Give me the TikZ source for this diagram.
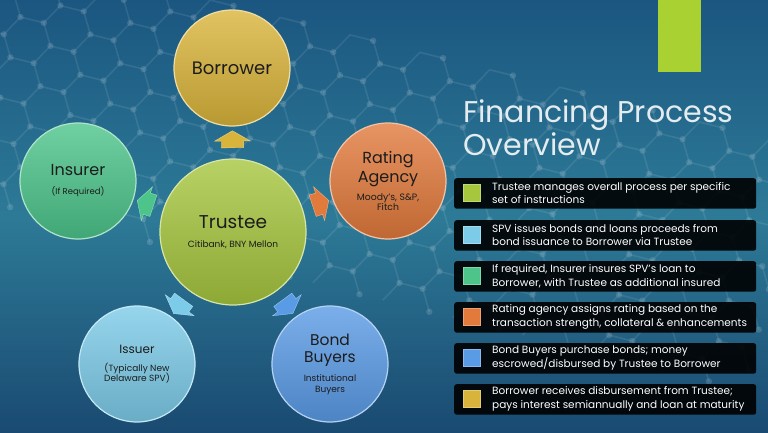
\documentclass[tikz,border=0pt]{standalone}
\usepackage{fontspec}
\setmainfont{Poppins}
\usetikzlibrary{shapes.arrows,positioning}

\definecolor{bgtop}{HTML}{1B5680}
\definecolor{bgmid}{HTML}{2D7A97}
\definecolor{bgbot}{HTML}{1A4A71}
\definecolor{inkdark}{HTML}{1C1C1C}
\definecolor{titlegray}{HTML}{E4ECF0}
\definecolor{limebar}{HTML}{A9D132}
\definecolor{borrowerc}{HTML}{D9B43A}
\definecolor{insurerc}{HTML}{4CC48A}
\definecolor{trusteec}{HTML}{A6C63E}
\definecolor{ratingc}{HTML}{E27A3C}
\definecolor{issuerc}{HTML}{7CCBE8}
\definecolor{bondc}{HTML}{5A9BE6}

\begin{document}
\begin{tikzpicture}
	[
		x=1pt, y=-1pt,
		party/.style={circle, inner sep=0pt, minimum size=116pt, align=center,
			text=inkdark, draw=white!55!#1, line width=1.2pt,
			top color=#1!80!white, bottom color=#1!85!black},
		pointer/.style={single arrow, sloped, allow upside down, inner xsep=0pt, inner ysep=11pt,
			minimum height=17pt, single arrow head extend=6.5pt,
			single arrow tip angle=120, fill=#1, draw=white!40!#1, line width=0.4pt},
		stepbox/.style={fill=black, fill opacity=0.9, rounded corners=2.5pt,
			minimum width=302pt, minimum height=30.5pt, anchor=north west, inner sep=0pt},
		bullet/.style={minimum size=17pt, inner sep=0pt, fill=#1, draw=white!30!#1, line width=0.5pt},
		legend/.style={text=white, align=left, anchor=west, inner sep=0pt,
			font=\fontsize{10.5}{13.5}\selectfont},
		heading/.style={text=titlegray, anchor=base west, inner sep=0pt,
			font=\fontsize{30}{32}\selectfont},
		bond/.style={white, opacity=0.09, line width=1.6pt},
		atom/.style={white, opacity=0.14}
	]

	% background
	\useasboundingbox (0,0) rectangle (768,433);
	\fill[top color=bgtop, bottom color=bgbot, middle color=bgmid] (0,0) rectangle (768,433);
	\begin{scope}[rotate=-14]
		\foreach \i in {-2,...,22}
		\foreach \j in {0,...,5}
		{
			\coordinate (hex) at ({36*\i},{41.57*\j+20.78*mod(\i,2)-30});
			\draw[bond] ([shift={(24,0)}]hex) -- ([shift={(12,-20.78)}]hex)
				-- ([shift={(-12,-20.78)}]hex) -- ([shift={(-24,0)}]hex);
			\fill[atom] ([shift={(24,0)}]hex) circle (3.2);
			\fill[atom] ([shift={(12,-20.78)}]hex) circle (3.2);
		}
	\end{scope}
	\node[fill=limebar, minimum width=43pt, minimum height=72pt, inner sep=0pt, anchor=north west] (accent) at (658,0) {};

	% parties
	\node[party=trusteec, minimum size=146pt, font=\fontsize{9}{19}\selectfont] (trustee) at (233,232)
		{{\fontsize{18.5}{18}\selectfont Trustee}\\Citibank, BNY Mellon};
	\node[party=borrowerc, font=\fontsize{18}{20}\selectfont] (borrower) at (232,68) {Borrower};
	\node[party=insurerc, font=\fontsize{8.5}{19}\selectfont] (insurer) at (78,181)
		{{\fontsize{16}{18}\selectfont Insurer}\\(If Required)};
	\node[party=ratingc, font=\fontsize{9.3}{19}\selectfont] (rating) at (388,181)
		{{\fontsize{16}{18}\selectfont Rating}\\{\fontsize{16}{18}\selectfont Agency}\\[-1pt]Moody’s, S\&P,\\[-8.5pt]Fitch};
	\node[party=issuerc, font=\fontsize{9}{18}\selectfont] (issuer) at (137,364)
		{{\fontsize{12}{14}\selectfont Issuer}\\(Typically New\\[-7.5pt]Delaware SPV)};
	\node[party=bondc, font=\fontsize{9}{17}\selectfont] (bond) at (330,364)
		{{\fontsize{15.5}{18}\selectfont Bond}\\{\fontsize{15.5}{18}\selectfont Buyers}\\[2pt]Institutional\\[-6pt]Buyers};

	% pointers from trustee
	\foreach \to/\col in {borrower/borrowerc,insurer/insurerc,rating/ratingc,issuer/issuerc,bond/bondc}
	\path (trustee) -- node[pointer=\col] (to\to) {} (\to);

	% title
	\node[heading] (heading1) at (463,123) {Financing Process};
	\node[heading] (heading2) at (463,155) {Overview};

	% legend
	\foreach \top/\col/\txt [count=\i] in {
		178/trusteec/{Trustee manages overall process per specific\\set of instructions},
		220/issuerc/{SPV issues bonds and loans proceeds from\\bond issuance to Borrower via Trustee},
		261/insurerc/{If required, Insurer insures SPV’s loan to\\Borrower, with Trustee as additional insured},
		302/ratingc/{Rating agency assigns rating based on the\\transaction strength, collateral \& enhancements},
		343/bondc/{Bond Buyers purchase bonds; money\\escrowed/disbursed by Trustee to Borrower},
		384/borrowerc/{Borrower receives disbursement from Trustee;\\pays interest semiannually and loan at maturity}}
	{
		\node[stepbox] (box\i) at (454,\top) {};
		\node[bullet=\col] (sq\i) at (472,{\top+15}) {};
		\node[legend] (txt\i) at (492,{\top+15}) {\txt};
	}

\end{tikzpicture}
\end{document}
